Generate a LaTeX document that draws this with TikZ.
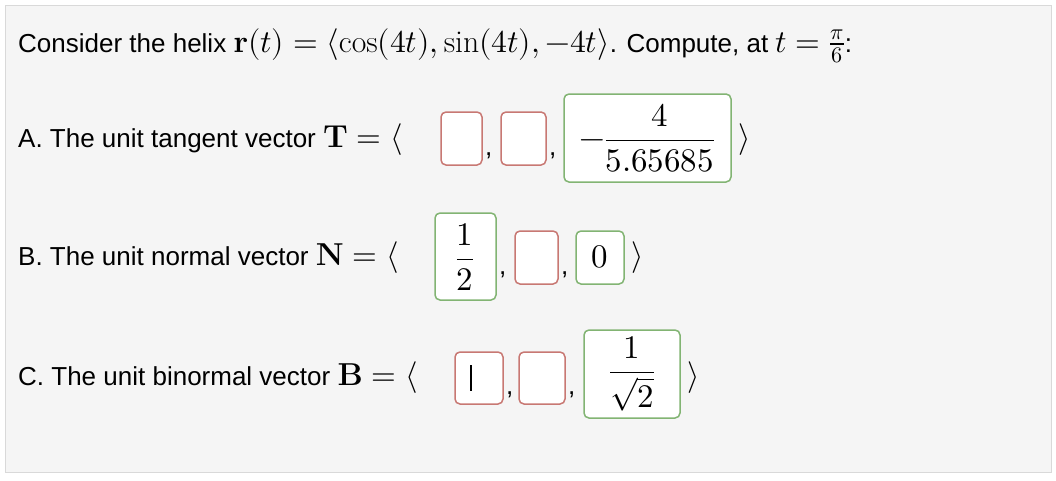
\documentclass[tikz,border=0pt]{standalone}
\usepackage{fontspec}
\setmainfont{Liberation Sans}
\usepackage{unicode-math}
\setmathfont{Latin Modern Math}[Scale=1.22]
\setmathrm{Latin Modern Roman}[Scale=1.22]
\definecolor{gbox}{RGB}{130,180,115}
\definecolor{rbox}{RGB}{200,120,115}
\begin{document}
\begin{tikzpicture}[x=1pt,y=-1pt,
  txt/.style={anchor=base west,inner sep=0pt,font=\fontsize{26}{31}\selectfont},
  bad/.style={draw=rbox,line width=1.5pt,fill=white,rounded corners=5pt},
  good/.style={draw=gbox,line width=1.5pt,fill=white,rounded corners=5pt},
  inn/.style={inner sep=0pt,font=\fontsize{27}{32}\selectfont}]
\useasboundingbox (0,0) rectangle (1056,480);
\draw[fill=black!4,draw=black!15] (5,5) rectangle (1051,472);
\node[txt] (l1) at (18,52) {Consider the helix $\mathbf{r}(t)=\langle\cos(4t),\sin(4t),-4t\rangle$. Compute, at $t=\frac{\pi}{6}$:};
% A
\node[txt] (la) at (18,147) {A. The unit tangent vector $\mathbf{T}=\langle$};
\draw[bad] (441,112) rectangle (482,165);
\node[txt] (ca1) at (485,155) {,};
\draw[bad] (501,112) rectangle (546,165);
\node[txt] (ca2) at (549,155) {,};
\draw[good] (564,94) rectangle (731,182);
\node[inn] (fa) at (647,138) {$-\dfrac{4}{5.65685}$};
\node[txt] (ra) at (738,147) {$\rangle$};
% B
\node[txt] (lb) at (18,265) {B. The unit normal vector $\mathbf{N}=\langle$};
\draw[good] (435,213) rectangle (496,300);
\node[inn] (fb) at (465,257) {$\dfrac{1}{2}$};
\node[txt] (cb1) at (499,274) {,};
\draw[bad] (515,231) rectangle (558,284);
\node[txt] (cb2) at (561,274) {,};
\draw[good] (576,231) rectangle (624,284);
\node[inn] (zb) at (600,257) {$0$};
\node[txt] (rb) at (631,265) {$\rangle$};
% C
\node[txt] (lc) at (18,385) {C. The unit binormal vector $\mathbf{B}=\langle$};
\draw[bad] (455,352) rectangle (503,404);
\draw[line width=1.2pt] (471,365) -- (471,391);
\node[txt] (cc1) at (506,394) {,};
\draw[bad] (519,352) rectangle (565,404);
\node[txt] (cc2) at (568,394) {,};
\draw[good] (584,330) rectangle (680,418);
\node[inn] (fc) at (632,374) {$\dfrac{1}{\sqrt{2}}$};
\node[txt] (rc) at (687,385) {$\rangle$};
\end{tikzpicture}
\end{document}
